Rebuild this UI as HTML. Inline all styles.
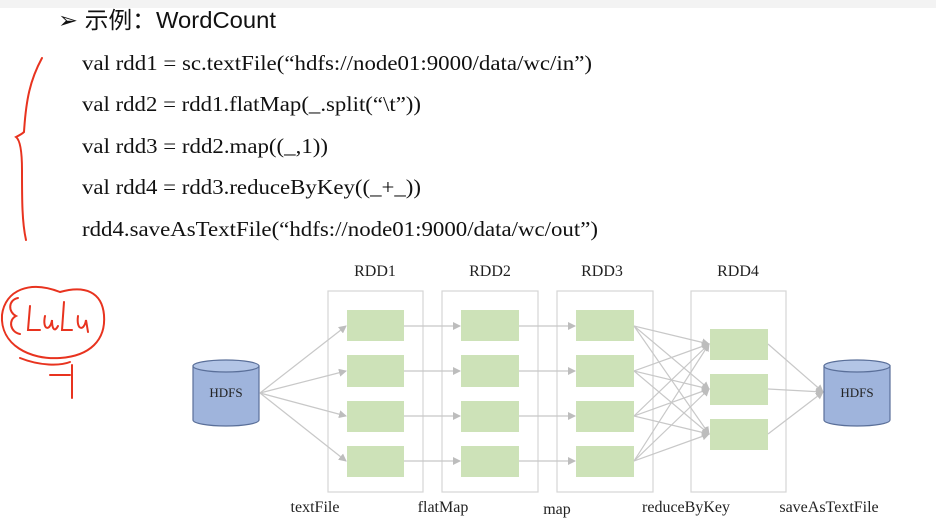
<!DOCTYPE html>
<html><head><meta charset="utf-8"><style>
html,body{margin:0;padding:0;background:#fff;}
body{width:936px;height:525px;overflow:hidden;position:relative;}
</style></head><body>
<svg width="936" height="525" viewBox="0 0 936 525" xmlns="http://www.w3.org/2000/svg" style="position:absolute;left:0;top:0">
<defs>
<marker id="a" markerWidth="8" markerHeight="8" refX="7" refY="4" orient="auto" markerUnits="userSpaceOnUse"><path d="M0,0 L8,4 L0,8 z" fill="#bdbdbd"/></marker>
</defs>
<rect width="936" height="8" fill="#f3f3f3"/>
<text x="58" y="28" font-family="'Liberation Sans','Noto Sans CJK SC',sans-serif" font-size="23" fill="#111" textLength="218" lengthAdjust="spacingAndGlyphs">➢ 示例：WordCount</text>
<g font-family="'Liberation Serif',serif" font-size="21" fill="#111" lengthAdjust="spacingAndGlyphs">
<text x="82" y="70" textLength="510" lengthAdjust="spacingAndGlyphs">val rdd1 = sc.textFile(“hdfs://node01:9000/data/wc/in”)</text>
<text x="82" y="111" textLength="339" lengthAdjust="spacingAndGlyphs">val rdd2 = rdd1.flatMap(_.split(“\t”))</text>
<text x="82" y="153" textLength="246" lengthAdjust="spacingAndGlyphs">val rdd3 = rdd2.map((_,1))</text>
<text x="82" y="194" textLength="339" lengthAdjust="spacingAndGlyphs">val rdd4 = rdd3.reduceByKey((_+_))</text>
<text x="82" y="236" textLength="516" lengthAdjust="spacingAndGlyphs">rdd4.saveAsTextFile(“hdfs://node01:9000/data/wc/out”)</text>
</g>
<g fill="none" stroke="#e8331f" stroke-width="2" stroke-linecap="round">
<path d="M42,58 C30,80 26,100 24,132 C22,134 18,136 16,137 C20,140 22,150 22,170 C22,200 22,222 26,240"/>
<path d="M60,292 C30,280 5,290 2,315 C0,345 30,360 60,358 C90,356 106,340 104,315 C102,292 85,285 60,292"/>
<path d="M18,298 C8,300 8,312 16,316 C8,320 10,332 20,334"/>
<path d="M30,306 L28,330 L40,330"/>
<path d="M45,316 C42,330 50,332 52,320 C52,330 55,332 58,326"/>
<path d="M64,302 L62,330 L72,330"/>
<path d="M78,316 C76,330 84,332 86,320 L88,332"/>
<path d="M20,358 C40,366 60,366 70,362"/>
<path d="M50,375 L70,375 M72,365 L72,398"/>
</g>
<g font-family="'Liberation Serif',serif" font-size="16" fill="#222" text-anchor="middle">
<text x="375" y="276">RDD1</text><text x="490" y="276">RDD2</text><text x="602" y="276">RDD3</text><text x="738" y="276">RDD4</text>
<text x="315" y="512">textFile</text><text x="443" y="512">flatMap</text><text x="557" y="514">map</text><text x="686" y="512">reduceByKey</text><text x="829" y="512">saveAsTextFile</text>
</g>
<g fill="none" stroke="#d6d6d6" stroke-width="1.2">
<rect x="328" y="291" width="95" height="201"/><rect x="442" y="291" width="96" height="201"/><rect x="557" y="291" width="96" height="201"/><rect x="691" y="291" width="95" height="201"/>
</g>
<g fill="#cde2b8">
<rect x="347" y="310" width="57" height="31"/><rect x="347" y="355" width="57" height="32"/><rect x="347" y="401" width="57" height="31"/><rect x="347" y="446" width="57" height="31"/>
<rect x="461" y="310" width="58" height="31"/><rect x="461" y="355" width="58" height="32"/><rect x="461" y="401" width="58" height="31"/><rect x="461" y="446" width="58" height="31"/>
<rect x="576" y="310" width="58" height="31"/><rect x="576" y="355" width="58" height="32"/><rect x="576" y="401" width="58" height="31"/><rect x="576" y="446" width="58" height="31"/>
<rect x="710" y="329" width="58" height="31"/><rect x="710" y="374" width="58" height="31"/><rect x="710" y="419" width="58" height="31"/>
</g>
<g stroke="#c8c8c8" stroke-width="1.2" fill="none" marker-end="url(#a)">
<line x1="260" y1="393" x2="346" y2="326"/><line x1="260" y1="393" x2="346" y2="371"/><line x1="260" y1="393" x2="346" y2="416"/><line x1="260" y1="393" x2="346" y2="461"/>
<line x1="404" y1="326" x2="460" y2="326"/><line x1="404" y1="371" x2="460" y2="371"/><line x1="404" y1="416" x2="460" y2="416"/><line x1="404" y1="461" x2="460" y2="461"/>
<line x1="519" y1="326" x2="575" y2="326"/><line x1="519" y1="371" x2="575" y2="371"/><line x1="519" y1="416" x2="575" y2="416"/><line x1="519" y1="461" x2="575" y2="461"/>
<line x1="634" y1="326" x2="709" y2="344"/><line x1="634" y1="326" x2="709" y2="389"/><line x1="634" y1="326" x2="709" y2="434"/>
<line x1="634" y1="371" x2="709" y2="344"/><line x1="634" y1="371" x2="709" y2="389"/><line x1="634" y1="371" x2="709" y2="434"/>
<line x1="634" y1="416" x2="709" y2="344"/><line x1="634" y1="416" x2="709" y2="389"/><line x1="634" y1="416" x2="709" y2="434"/>
<line x1="634" y1="461" x2="709" y2="344"/><line x1="634" y1="461" x2="709" y2="389"/><line x1="634" y1="461" x2="709" y2="434"/>
<line x1="768" y1="344" x2="823" y2="392"/><line x1="768" y1="389" x2="823" y2="392"/><line x1="768" y1="434" x2="823" y2="392"/>
</g>
<g stroke="#5a6f99" stroke-width="1.2">
<path d="M193,366 L193,420 A33,6 0 0 0 259,420 L259,366 Z" fill="#9fb4dc"/>
<ellipse cx="226" cy="366" rx="33" ry="6" fill="#b3c5e6"/>
<path d="M824,366 L824,420 A33,6 0 0 0 890,420 L890,366 Z" fill="#9fb4dc"/>
<ellipse cx="857" cy="366" rx="33" ry="6" fill="#b3c5e6"/>
</g>
<g font-family="'Liberation Serif',serif" font-size="13" fill="#222" text-anchor="middle">
<text x="226" y="397">HDFS</text><text x="857" y="397">HDFS</text>
</g>
</svg>
</body></html>
